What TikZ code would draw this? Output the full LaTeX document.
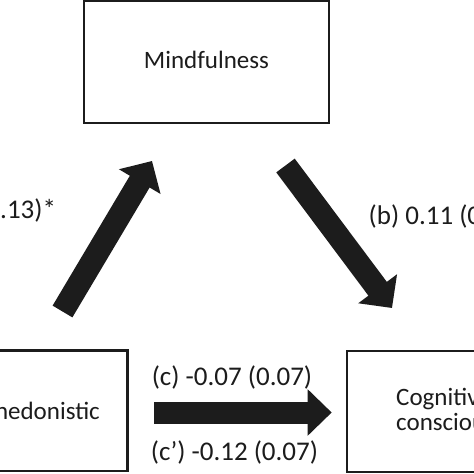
\documentclass[tikz,border=0pt]{standalone}
\usepackage{fontspec}
\setmainfont{Carlito}
\usetikzlibrary{arrows.meta}
\definecolor{ink}{HTML}{1C1C1C}
\tikzset{
  box/.style={draw=ink, line width=2.2pt, fill=white},
  blockarrow/.style={draw=ink, line width=23pt, line cap=butt,
    -{Triangle[length=24pt, width=47pt]}},
  hblockarrow/.style={draw=ink, line width=22pt, line cap=butt,
    -{Triangle[length=24pt, width=45pt]}},
  boxtext/.style={font=\fontsize{25}{26}\selectfont, text=ink, inner sep=0pt},
  lbl/.style={font=\fontsize{27}{28}\selectfont, text=ink, inner sep=0pt},
}
\begin{document}
\begin{tikzpicture}[x=1pt, y=-1pt]
\useasboundingbox (0,0) rectangle (474,474);
\clip (0,0) rectangle (474,474);
\fill[white] (0,0) rectangle (474,474);
% boxes
\draw[box] (84,1) rectangle (329,123);
\node[boxtext, anchor=base] (mind) at (206.5,68.3) {Mindfulness};
\draw[box] (-60,350.5) rectangle (127.5,471);
\node[boxtext, anchor=base east] (hed) at (100,419.3) {hedonistic};
\draw[box] (346.7,351) rectangle (530,472);
\node[boxtext, anchor=base west] (cog1) at (396,405) {Cognitive};
\node[boxtext, anchor=base west] (cog2) at (396,430.7) {conscious};
% arrow end points
\coordinate (aT) at (62.5,311.5);
\coordinate (aH) at (152,161);
\coordinate (bT) at (285.5,165.5);
\coordinate (bH) at (392,308);
\coordinate (cT) at (154,412.5);
\coordinate (cH) at (331.7,412.5);
\draw[blockarrow] (aT) -- (aH);
\draw[blockarrow] (bT) -- (bH);
\draw[hblockarrow] (cT) -- (cH);
% labels
\node[lbl, anchor=base west] (la) at (0,218.3) {.13)*};
\node[lbl, anchor=base west] (lb) at (368.5,224.3) {(b) 0.11 (0};
\node[lbl, anchor=base] (lc) at (232,385) {(c) -0.07 (0.07)};
\node[lbl, anchor=base] (lcp) at (234.5,460) {(c’) -0.12 (0.07)};
\end{tikzpicture}
\end{document}
